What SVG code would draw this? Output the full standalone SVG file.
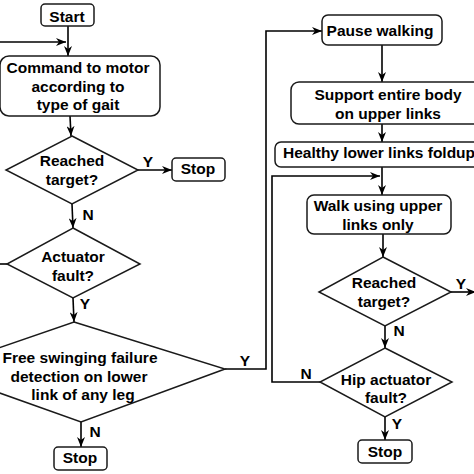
<svg xmlns="http://www.w3.org/2000/svg" width="474" height="474" viewBox="0 0 474 474">
<defs>
<marker id="ah" markerWidth="10" markerHeight="8" refX="10" refY="4" orient="auto" markerUnits="userSpaceOnUse">
<path d="M0,0 L10,4 L0,8 L3,4 z" fill="#000"/>
</marker>
<style>
.n{fill:#fff;stroke:#1a1a1a;stroke-width:1.5}
.c{fill:none;stroke:#000;stroke-width:1.6}
.a{marker-end:url(#ah)}
text{font-family:"Liberation Sans",Arial,sans-serif;font-weight:bold;font-size:15.5px;fill:#000}
.m{text-anchor:middle}
</style>
</defs>
<rect width="474" height="474" fill="#fff"/>
<g id="connectors">
<line class="c a" x1="68" y1="26" x2="68" y2="56"/>
<line class="c a" x1="0" y1="42" x2="66" y2="42"/>
<line class="c a" x1="70" y1="116" x2="71" y2="136"/>
<line class="c a" x1="138" y1="170" x2="172" y2="170"/>
<line class="c a" x1="72" y1="204" x2="73" y2="228"/>
<line class="c" x1="0" y1="264" x2="7" y2="264"/>
<line class="c a" x1="73" y1="298" x2="74" y2="322"/>
<polyline class="c a" points="225,369 266,369 266,31 322,31"/>
<line class="c a" x1="81" y1="422" x2="81" y2="447"/>
<line class="c a" x1="382" y1="45" x2="382" y2="82"/>
<line class="c a" x1="382" y1="124" x2="382" y2="142"/>
<line class="c a" x1="382" y1="167" x2="382" y2="195"/>
<polyline class="c a" points="320,382 272,382 272,176 380,176"/>
<line class="c a" x1="383" y1="234" x2="383" y2="257"/>
<line class="c a" x1="451" y1="292" x2="476" y2="292"/>
<line class="c a" x1="385" y1="326" x2="385" y2="348"/>
<line class="c a" x1="385" y1="417" x2="385" y2="440"/>
<text class="m" x="148" y="167">Y</text>
<text class="m" x="88" y="220">N</text>
<text class="m" x="85" y="309">Y</text>
<text class="m" x="245" y="366">Y</text>
<text class="m" x="95" y="437">N</text>
<text class="m" x="461" y="289">Y</text>
<text class="m" x="399" y="336">N</text>
<text class="m" x="306" y="379">N</text>
<text class="m" x="397" y="429">Y</text>
</g>
<g id="start">
<rect class="n" x="41" y="4" width="53" height="22" rx="4"/>
<text class="m" x="67" y="21.5">Start</text>
</g>
<g id="command">
<rect class="n" x="0" y="56" width="160" height="60" rx="9"/>
<text class="m" x="78" y="73">Command to motor</text>
<text class="m" x="78" y="91.5">according to</text>
<text class="m" x="78" y="110">type of gait</text>
</g>
<g id="reached1">
<polygon class="n" points="72,136 138,170 72,204 6,170"/>
<text class="m" x="72" y="166">Reached</text>
<text class="m" x="72" y="184.5">target?</text>
</g>
<g id="stop1">
<rect class="n" x="172" y="158" width="53" height="23" rx="4"/>
<text class="m" x="198" y="174">Stop</text>
</g>
<g id="actuator">
<polygon class="n" points="73,228 140,264 73,298 7,264"/>
<text class="m" x="73" y="262">Actuator</text>
<text class="m" x="73" y="280.5">fault?</text>
</g>
<g id="freeswing">
<polygon class="n" points="74,322 225,369 81,422 -65,370"/>
<text class="m" x="80" y="363">Free swinging failure</text>
<text class="m" x="79" y="381.5">detection on lower</text>
<text class="m" x="83" y="400">link of any leg</text>
</g>
<g id="stop2">
<rect class="n" x="54" y="447" width="53" height="23" rx="4"/>
<text class="m" x="80" y="462.5">Stop</text>
</g>
<g id="pause">
<rect class="n" x="322" y="15" width="120" height="30" rx="6"/>
<text class="m" x="380" y="36">Pause walking</text>
</g>
<g id="support">
<rect class="n" x="291" y="82" width="190" height="42" rx="8"/>
<text class="m" x="388" y="100">Support entire body</text>
<text class="m" x="388" y="118.5">on upper links</text>
</g>
<g id="healthy">
<rect class="n" x="275" y="142" width="210" height="25" rx="6"/>
<text x="283" y="158">Healthy lower links foldup</text>
</g>
<g id="walk">
<rect class="n" x="307" y="195" width="144" height="39" rx="7"/>
<text class="m" x="378" y="211">Walk using upper</text>
<text class="m" x="378" y="229.5">links only</text>
</g>
<g id="reached2">
<polygon class="n" points="383,257 451,292 385,326 319,292"/>
<text class="m" x="384" y="288">Reached</text>
<text class="m" x="384" y="306.5">target?</text>
</g>
<g id="hip">
<polygon class="n" points="385,348 452,382 385,417 320,382"/>
<text class="m" x="386" y="384.5">Hip actuator</text>
<text class="m" x="386" y="403">fault?</text>
</g>
<g id="stop3">
<rect class="n" x="358" y="440" width="54" height="23" rx="4"/>
<text class="m" x="385" y="457">Stop</text>
</g>
</svg>
